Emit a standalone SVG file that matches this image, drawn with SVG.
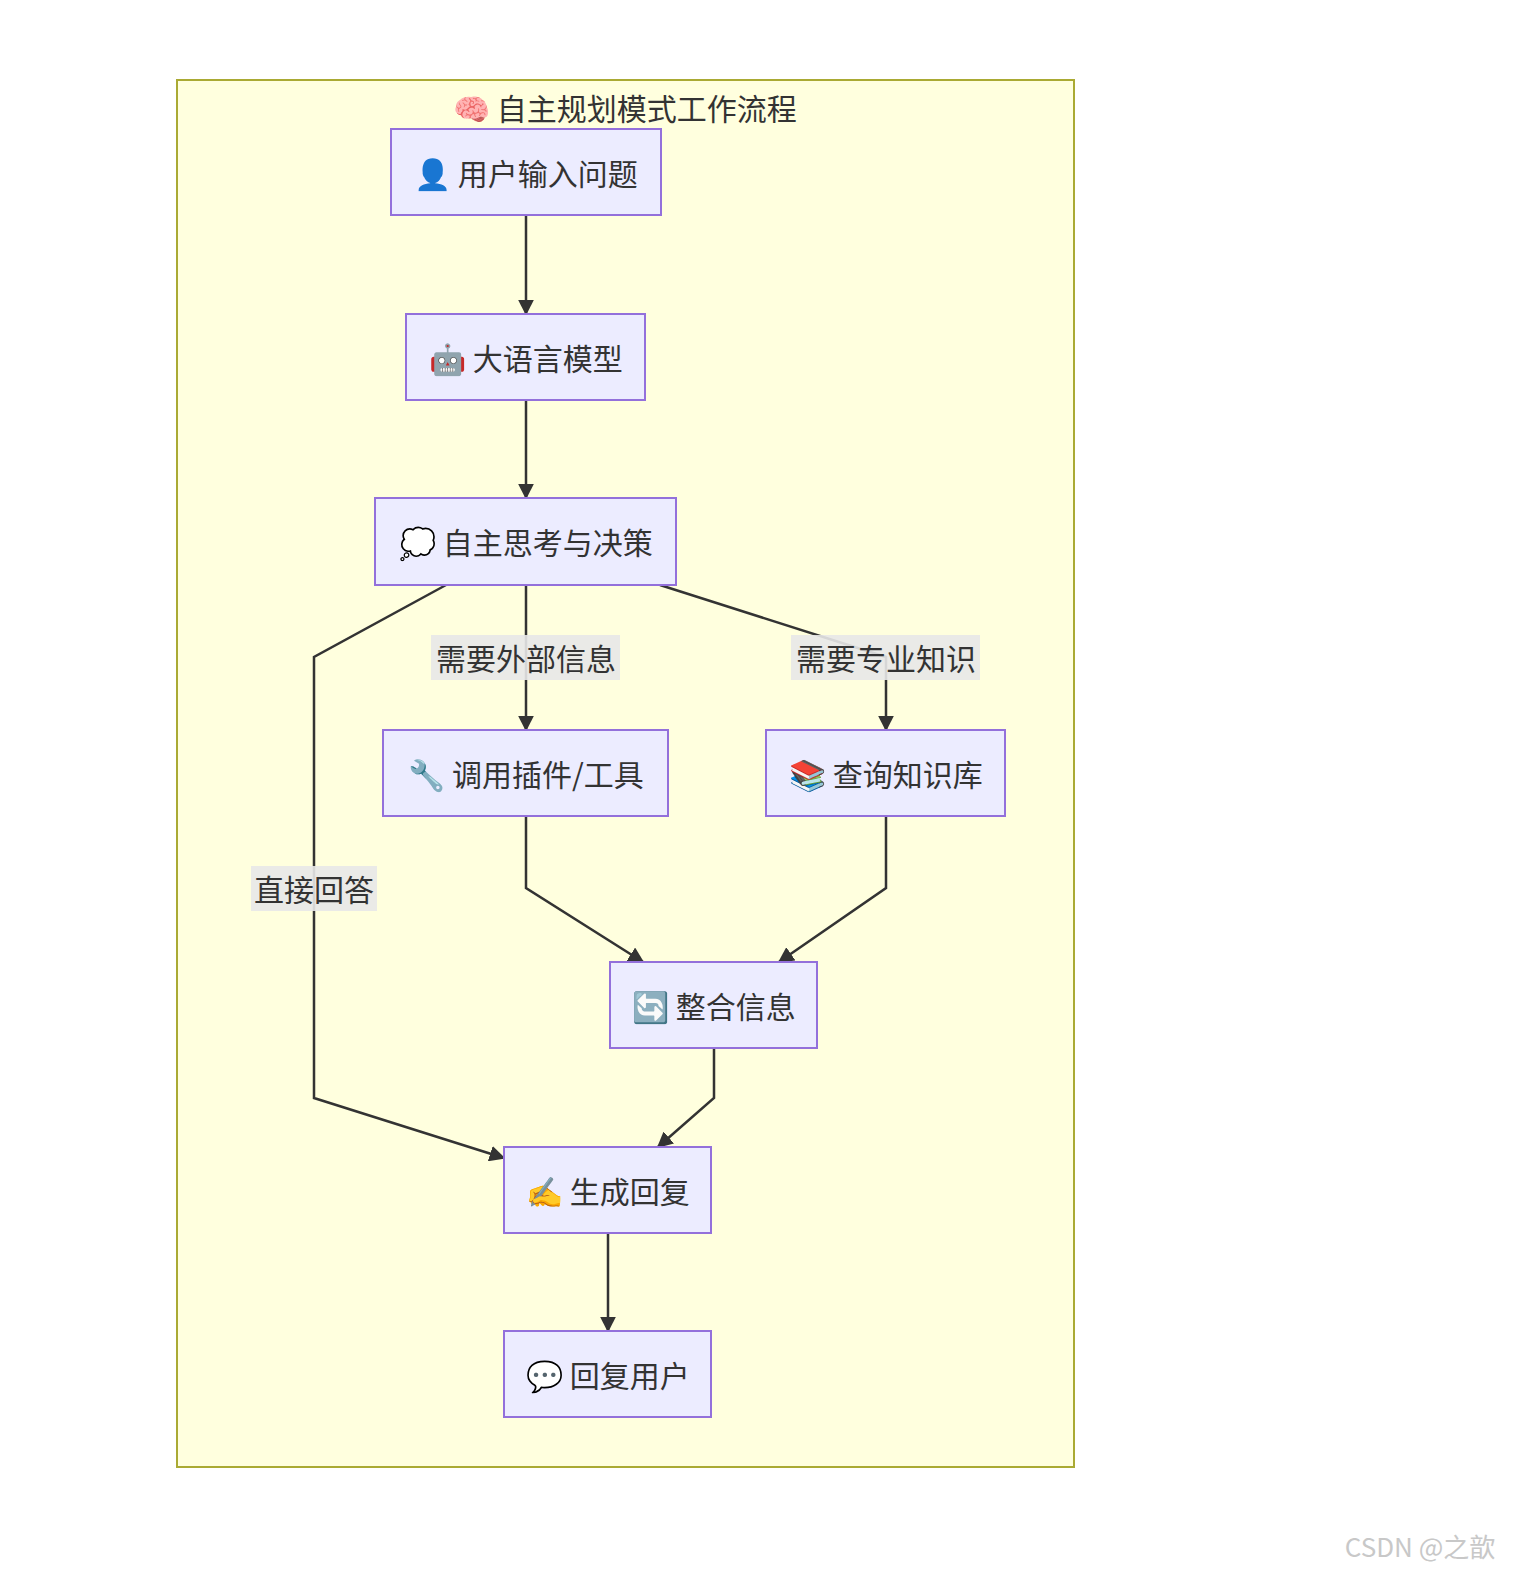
<svg xmlns="http://www.w3.org/2000/svg" width="1534" height="1596" viewBox="0 0 1534 1596">
<style>
.n rect{fill:#ECECFF;stroke:#9370DB;stroke-width:2}
text{font-family:"Noto Sans CJK SC","Noto Sans",sans-serif;font-size:30px;fill:#333;text-anchor:middle;dominant-baseline:central}
.e path{fill:none;stroke:#333;stroke-width:2.5}
.lb{fill:#e8e8e8;opacity:0.9}
</style>
<defs><marker id="a" viewBox="0 0 10 10" refX="9" refY="5" markerWidth="7" markerHeight="7" orient="auto-start-reverse" markerUnits="userSpaceOnUse" ><path d="M0,0L10,5L0,10z" fill="#333"/></marker>
<marker id="b" viewBox="0 0 10 10" refX="9" refY="5" markerWidth="16" markerHeight="16" orient="auto" markerUnits="userSpaceOnUse"><path d="M0,0L10,5L0,10z" fill="#333"/></marker></defs>
<rect width="1534" height="1596" fill="#fff"/>
<g id="cluster"><rect x="177" y="80" width="897" height="1387" fill="#ffffde" stroke="#aaaa33" stroke-width="2"/><text x="625" y="107">🧠 自主规划模式工作流程</text></g>
<g class="e" id="edges">
<path d="M526,215V314" marker-end="url(#b)"/>
<path d="M526,400V498" marker-end="url(#b)"/>
<path d="M526,585V730" marker-end="url(#b)"/>
<path d="M660,585L886,657V730" marker-end="url(#b)"/>
<path d="M446,585L314,657V1098L504,1158" marker-end="url(#b)"/>
<path d="M526,816V888L643,962" marker-end="url(#b)"/>
<path d="M886,816V888L779,962" marker-end="url(#b)"/>
<path d="M714,1048V1098L658,1147" marker-end="url(#b)"/>
<path d="M608,1233V1331" marker-end="url(#b)"/>
<rect class="lb" x="431" y="635" width="189" height="45"/><text x="526" y="657">需要外部信息</text>
<rect class="lb" x="791" y="635" width="189" height="45"/><text x="886" y="657">需要专业知识</text>
<rect class="lb" x="251" y="866" width="126" height="45"/><text x="314" y="888">直接回答</text>
</g>
<g class="n" id="n1"><rect x="391" y="129" width="270" height="86"/><text x="526" y="172">👤 用户输入问题</text></g>
<g class="n" id="n2"><rect x="406" y="314" width="239" height="86"/><text x="526" y="357">🤖 大语言模型</text></g>
<g class="n" id="n3"><rect x="375" y="498" width="301" height="87"/><text x="526" y="541">💭 自主思考与决策</text></g>
<g class="n" id="n4"><rect x="383" y="730" width="285" height="86"/><text x="526" y="773">🔧 调用插件/工具</text></g>
<g class="n" id="n5"><rect x="766" y="730" width="239" height="86"/><text x="886" y="773">📚 查询知识库</text></g>
<g class="n" id="n6"><rect x="610" y="962" width="207" height="86"/><text x="714" y="1005">🔄 整合信息</text></g>
<g class="n" id="n7"><rect x="504" y="1147" width="207" height="86"/><text x="608" y="1190">✍️ 生成回复</text></g>
<g class="n" id="n8"><rect x="504" y="1331" width="207" height="86"/><text x="608" y="1374">💬 回复用户</text></g>
<text x="1420" y="1545" style="font-size:26px;fill:#c8c8c8">CSDN @之歆</text>
</svg>
